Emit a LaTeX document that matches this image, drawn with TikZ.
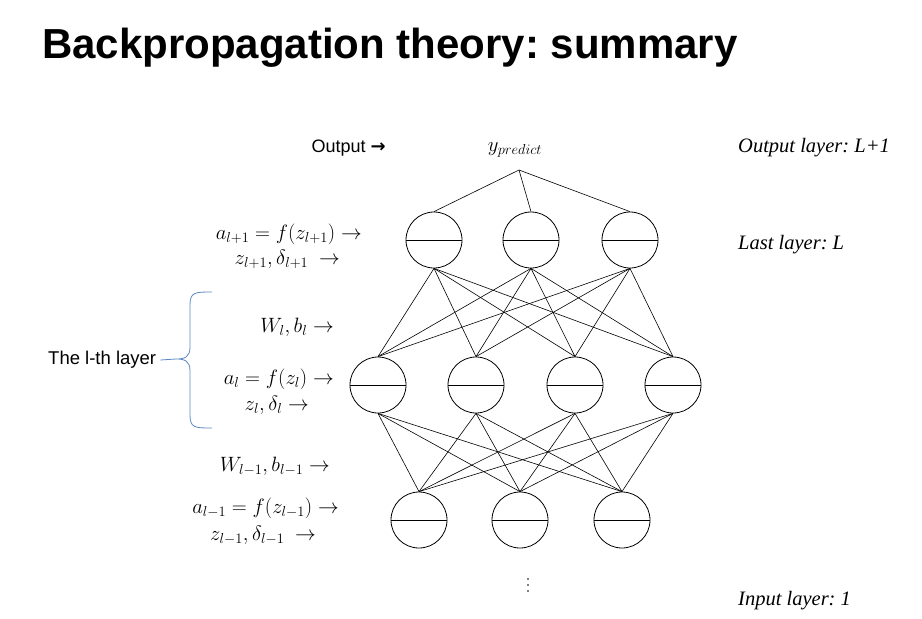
\documentclass[tikz,border=0pt]{standalone}
\usepackage{fontspec}
\setmainfont{Liberation Serif}
\newfontfamily\sans{Liberation Sans}
\newfontfamily\dejavu{DejaVu Sans}
\frenchspacing
\begin{document}
\begin{tikzpicture}[x=1pt,y=-1pt,
  neuron/.style={circle,draw,minimum size=56pt,inner sep=0pt,line width=0.8pt},
  wire/.style={line width=0.6pt},
  mlab/.style={anchor=east,font=\fontsize{20}{22}\selectfont,inner sep=0pt},
  rlab/.style={anchor=west,font=\fontsize{20.5}{22}\selectfont\itshape,inner sep=0pt}]
\useasboundingbox (0,0) rectangle (922,619);
\node[anchor=west,inner sep=0pt,font=\sans\bfseries\fontsize{42}{46}\selectfont] (title) at (42,48) {Backpropagation theory: summary};
\node[anchor=east,inner sep=0pt,font=\sans\fontsize{18}{20}\selectfont] (out) at (386,148) {Output {\dejavu\bfseries →}};
\node[inner sep=0pt,font=\fontsize{20}{22}\selectfont] (yp) at (515,150) {$y_{predict}$};
\coordinate (yc) at (519,170);
\foreach \i/\x in {1/434,2/531,3/630} \node[neuron] (t\i) at (\x,240) {};
\foreach \i/\x in {1/378,2/476,3/575,4/673} \node[neuron] (m\i) at (\x,385) {};
\foreach \i/\x in {1/419,2/520,3/622} \node[neuron] (b\i) at (\x,520) {};
\foreach \n in {t1,t2,t3,m1,m2,m3,m4,b1,b2,b3} \draw[line width=0.8pt] (\n.west) -- (\n.east);
\foreach \i in {1,2,3} \draw[wire] (yc) -- (t\i.north);
\foreach \i in {1,2,3} \foreach \j in {1,2,3,4} \draw[wire] (t\i.south) -- (m\j.north);
\foreach \j in {1,2,3,4} \foreach \k in {1,2,3} \draw[wire] (m\j.south) -- (b\k.north);
\foreach \y in {579,585,591} \fill (528,\y) circle (0.9pt);
\node[mlab] (l1) at (362,234) {$a_{l+1}=f(z_{l+1})\rightarrow$};
\node[mlab] (l2) at (340,259) {$z_{l+1},\delta_{l+1}\ \rightarrow$};
\node[mlab] (l3) at (334,327) {$W_l,b_l\rightarrow$};
\node[mlab] (l4) at (334,379) {$a_l=f(z_l)\rightarrow$};
\node[mlab] (l5) at (309,405) {$z_l,\delta_l\rightarrow$};
\node[mlab] (l6) at (330,466) {$W_{l-1},b_{l-1}\rightarrow$};
\node[mlab] (l7) at (339,508) {$a_{l-1}=f(z_{l-1})\rightarrow$};
\node[mlab] (l8) at (316,535) {$z_{l-1},\delta_{l-1}\ \rightarrow$};
\node[rlab] (r1) at (738,148) {Output layer: L+1};
\node[rlab] (r2) at (738,245) {Last layer: L};
\node[rlab] (r3) at (738,601) {Input layer: 1};
\node[anchor=west,inner sep=0pt,font=\sans\fontsize{18.5}{20}\selectfont] (lay) at (48,360) {The l-th layer};
\draw[color={rgb,255:red,91;green,135;blue,195},line width=0.8pt]
  (212,292) .. controls (195,292) and (190,292) .. (190,305) -- (190,347)
  .. controls (190,357) and (185,359) .. (176,359)
  .. controls (185,359) and (190,361) .. (190,371) -- (190,415)
  .. controls (190,428) and (195,428) .. (212,428);
\coordinate (bt) at (176,359);
\draw[color={rgb,255:red,91;green,135;blue,195},line width=0.8pt] (lay.east) ++(4,0) -- (bt);
\end{tikzpicture}
\end{document}
